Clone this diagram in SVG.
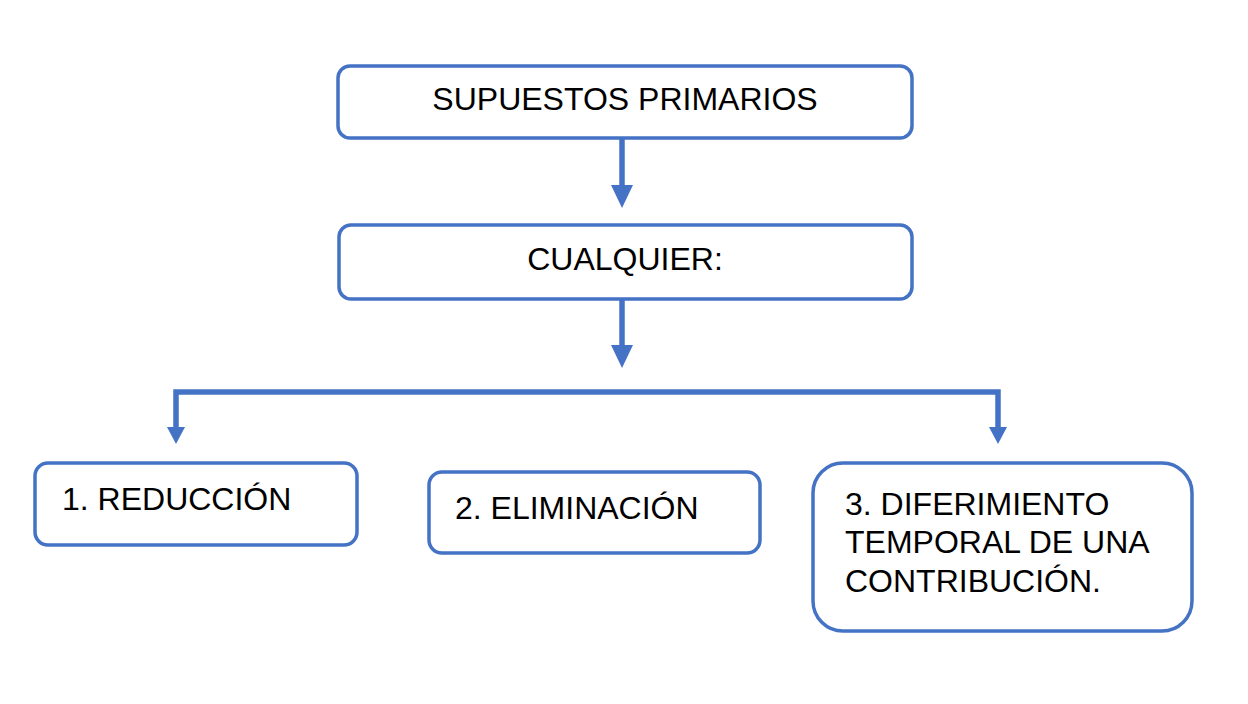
<svg xmlns="http://www.w3.org/2000/svg" width="1248" height="704" viewBox="0 0 1248 704">
<style>
.box{fill:#fff;stroke:#4472C4;stroke-width:3.5}
.t{font-family:"Liberation Sans",Arial,sans-serif;font-size:32px;fill:#000}
.c{text-anchor:middle}
.ln{fill:none;stroke:#4472C4;stroke-width:5.5}
.hd{fill:#4472C4}
</style>
<rect width="1248" height="704" fill="#fff"/>
<g id="connectors">
<line class="ln" x1="622" y1="138" x2="622" y2="188"/>
<polygon class="hd" points="611,185 633,185 622,208"/>
<line class="ln" x1="622" y1="299" x2="622" y2="348"/>
<polygon class="hd" points="611,345 633,345 622,368"/>
<polyline class="ln" points="176,430 176,392 998,392 998,430"/>
<polygon class="hd" points="167,427 185,427 176,444"/>
<polygon class="hd" points="989,427 1007,427 998,444"/>
</g>
<g id="n1">
<rect class="box" x="338" y="66" width="574" height="72" rx="12"/>
<text class="t c" x="625" y="110">SUPUESTOS PRIMARIOS</text>
</g>
<g id="n2">
<rect class="box" x="339" y="225" width="573" height="74" rx="12"/>
<text class="t c" x="625" y="270">CUALQUIER:</text>
</g>
<g id="n3">
<rect class="box" x="35" y="463" width="322" height="82" rx="13"/>
<text class="t" x="62" y="510">1. REDUCCIÓN</text>
</g>
<g id="n4">
<rect class="box" x="429" y="472" width="331" height="81" rx="13"/>
<text class="t" x="455" y="519">2. ELIMINACIÓN</text>
</g>
<g id="n5">
<rect class="box" x="813" y="463" width="379" height="168" rx="30"/>
<text class="t" x="845" y="515">3. DIFERIMIENTO</text>
<text class="t" x="845" y="553">TEMPORAL DE UNA</text>
<text class="t" x="845" y="592">CONTRIBUCIÓN.</text>
</g>
</svg>
